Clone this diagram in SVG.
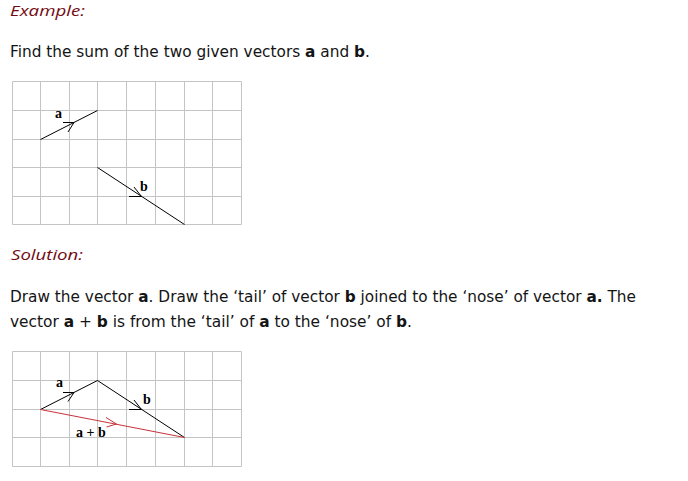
<svg xmlns="http://www.w3.org/2000/svg" width="688" height="481" viewBox="0 0 688 481">
<style>
.bg{fill:#ffffff}
.head{font-family:"Open Sans","DejaVu Sans",sans-serif;font-style:italic;font-size:15px;fill:#720a12}
.body{font-family:"DejaVu Sans","Liberation Sans",sans-serif;font-size:15px;fill:#141414}
.b{font-weight:bold}
.grid line{stroke:#c4c4c4;stroke-width:1}
.vec{stroke:#000;stroke-width:1;fill:none}
.red{stroke:#c8333a;stroke-width:1;fill:none}
.lab{font-family:"Liberation Serif","Times New Roman",serif;font-weight:bold;font-size:14px;fill:#000}
</style>
<rect class="bg" x="0" y="0" width="688" height="481"/>
<g id="text">
<text class="head" x="10" y="16" textLength="75" lengthAdjust="spacingAndGlyphs">Example:</text>
<text class="body" x="10" y="57" textLength="360" lengthAdjust="spacingAndGlyphs">Find the sum of the two given vectors <tspan class="b">a</tspan> and <tspan class="b">b</tspan>.</text>
<text class="head" x="11" y="260" textLength="72" lengthAdjust="spacingAndGlyphs">Solution:</text>
<text class="body" x="10" y="302" textLength="626" lengthAdjust="spacingAndGlyphs">Draw the vector <tspan class="b">a</tspan>. Draw the ‘tail’ of vector <tspan class="b">b</tspan> joined to the ‘nose’ of vector <tspan class="b">a.</tspan> The</text>
<text class="body" x="10" y="327" textLength="402" lengthAdjust="spacingAndGlyphs">vector <tspan class="b">a</tspan> + <tspan class="b">b</tspan> is from the ‘tail’ of <tspan class="b">a</tspan> to the ‘nose’ of <tspan class="b">b</tspan>.</text>
</g>
<g id="grid1" class="grid">
<line x1="12.5" y1="81.5" x2="12.5" y2="224.5"/>
<line x1="40.5" y1="81.5" x2="40.5" y2="224.5"/>
<line x1="69.5" y1="81.5" x2="69.5" y2="224.5"/>
<line x1="97.5" y1="81.5" x2="97.5" y2="224.5"/>
<line x1="126.5" y1="81.5" x2="126.5" y2="224.5"/>
<line x1="155.5" y1="81.5" x2="155.5" y2="224.5"/>
<line x1="184.5" y1="81.5" x2="184.5" y2="224.5"/>
<line x1="212.5" y1="81.5" x2="212.5" y2="224.5"/>
<line x1="241.5" y1="81.5" x2="241.5" y2="224.5"/>
<line x1="12.5" y1="81.5" x2="241.5" y2="81.5"/>
<line x1="12.5" y1="110.5" x2="241.5" y2="110.5"/>
<line x1="12.5" y1="139.5" x2="241.5" y2="139.5"/>
<line x1="12.5" y1="167.5" x2="241.5" y2="167.5"/>
<line x1="12.5" y1="196.5" x2="241.5" y2="196.5"/>
<line x1="12.5" y1="224.5" x2="241.5" y2="224.5"/>
</g>
<g id="grid2" class="grid">
<line x1="12.5" y1="351.5" x2="12.5" y2="466.5"/>
<line x1="40.5" y1="351.5" x2="40.5" y2="466.5"/>
<line x1="69.5" y1="351.5" x2="69.5" y2="466.5"/>
<line x1="97.5" y1="351.5" x2="97.5" y2="466.5"/>
<line x1="126.5" y1="351.5" x2="126.5" y2="466.5"/>
<line x1="155.5" y1="351.5" x2="155.5" y2="466.5"/>
<line x1="184.5" y1="351.5" x2="184.5" y2="466.5"/>
<line x1="212.5" y1="351.5" x2="212.5" y2="466.5"/>
<line x1="241.5" y1="351.5" x2="241.5" y2="466.5"/>
<line x1="12.5" y1="351.5" x2="241.5" y2="351.5"/>
<line x1="12.5" y1="380.5" x2="241.5" y2="380.5"/>
<line x1="12.5" y1="409.5" x2="241.5" y2="409.5"/>
<line x1="12.5" y1="437.5" x2="241.5" y2="437.5"/>
<line x1="12.5" y1="466.5" x2="241.5" y2="466.5"/>
</g>
<g id="connectors">
<g id="vec-a1">
<line class="vec" x1="40.5" y1="139.5" x2="97.5" y2="110.5"/>
<polyline class="vec" points="63,122.5 74,122.5 68,132"/>
</g>
<g id="vec-b1">
<line class="vec" x1="97.5" y1="167.5" x2="184.5" y2="224.5"/>
<polyline class="vec" points="129,196.5 141.5,196.5 134,187"/>
</g>
<g id="vec-a2">
<line class="vec" x1="40.5" y1="409.5" x2="97.5" y2="380.5"/>
<polyline class="vec" points="63,392.5 74,392.5 68,401.5"/>
</g>
<g id="vec-b2">
<line class="vec" x1="97.5" y1="380.5" x2="184.5" y2="437.5"/>
<polyline class="vec" points="129,409.5 141.5,409.5 134,400"/>
</g>
<g id="vec-sum">
<line class="red" x1="40.5" y1="409.5" x2="184.5" y2="437.5"/>
<polyline class="red" points="106,417.5 116.5,424 106.5,427"/>
</g>
</g>
<g id="labels">
<text class="lab" x="55" y="118">a</text>
<text class="lab" x="140" y="191">b</text>
<text class="lab" x="56" y="387">a</text>
<text class="lab" x="143" y="404">b</text>
<text class="lab" x="76" y="437">a + b</text>
</g>
</svg>
